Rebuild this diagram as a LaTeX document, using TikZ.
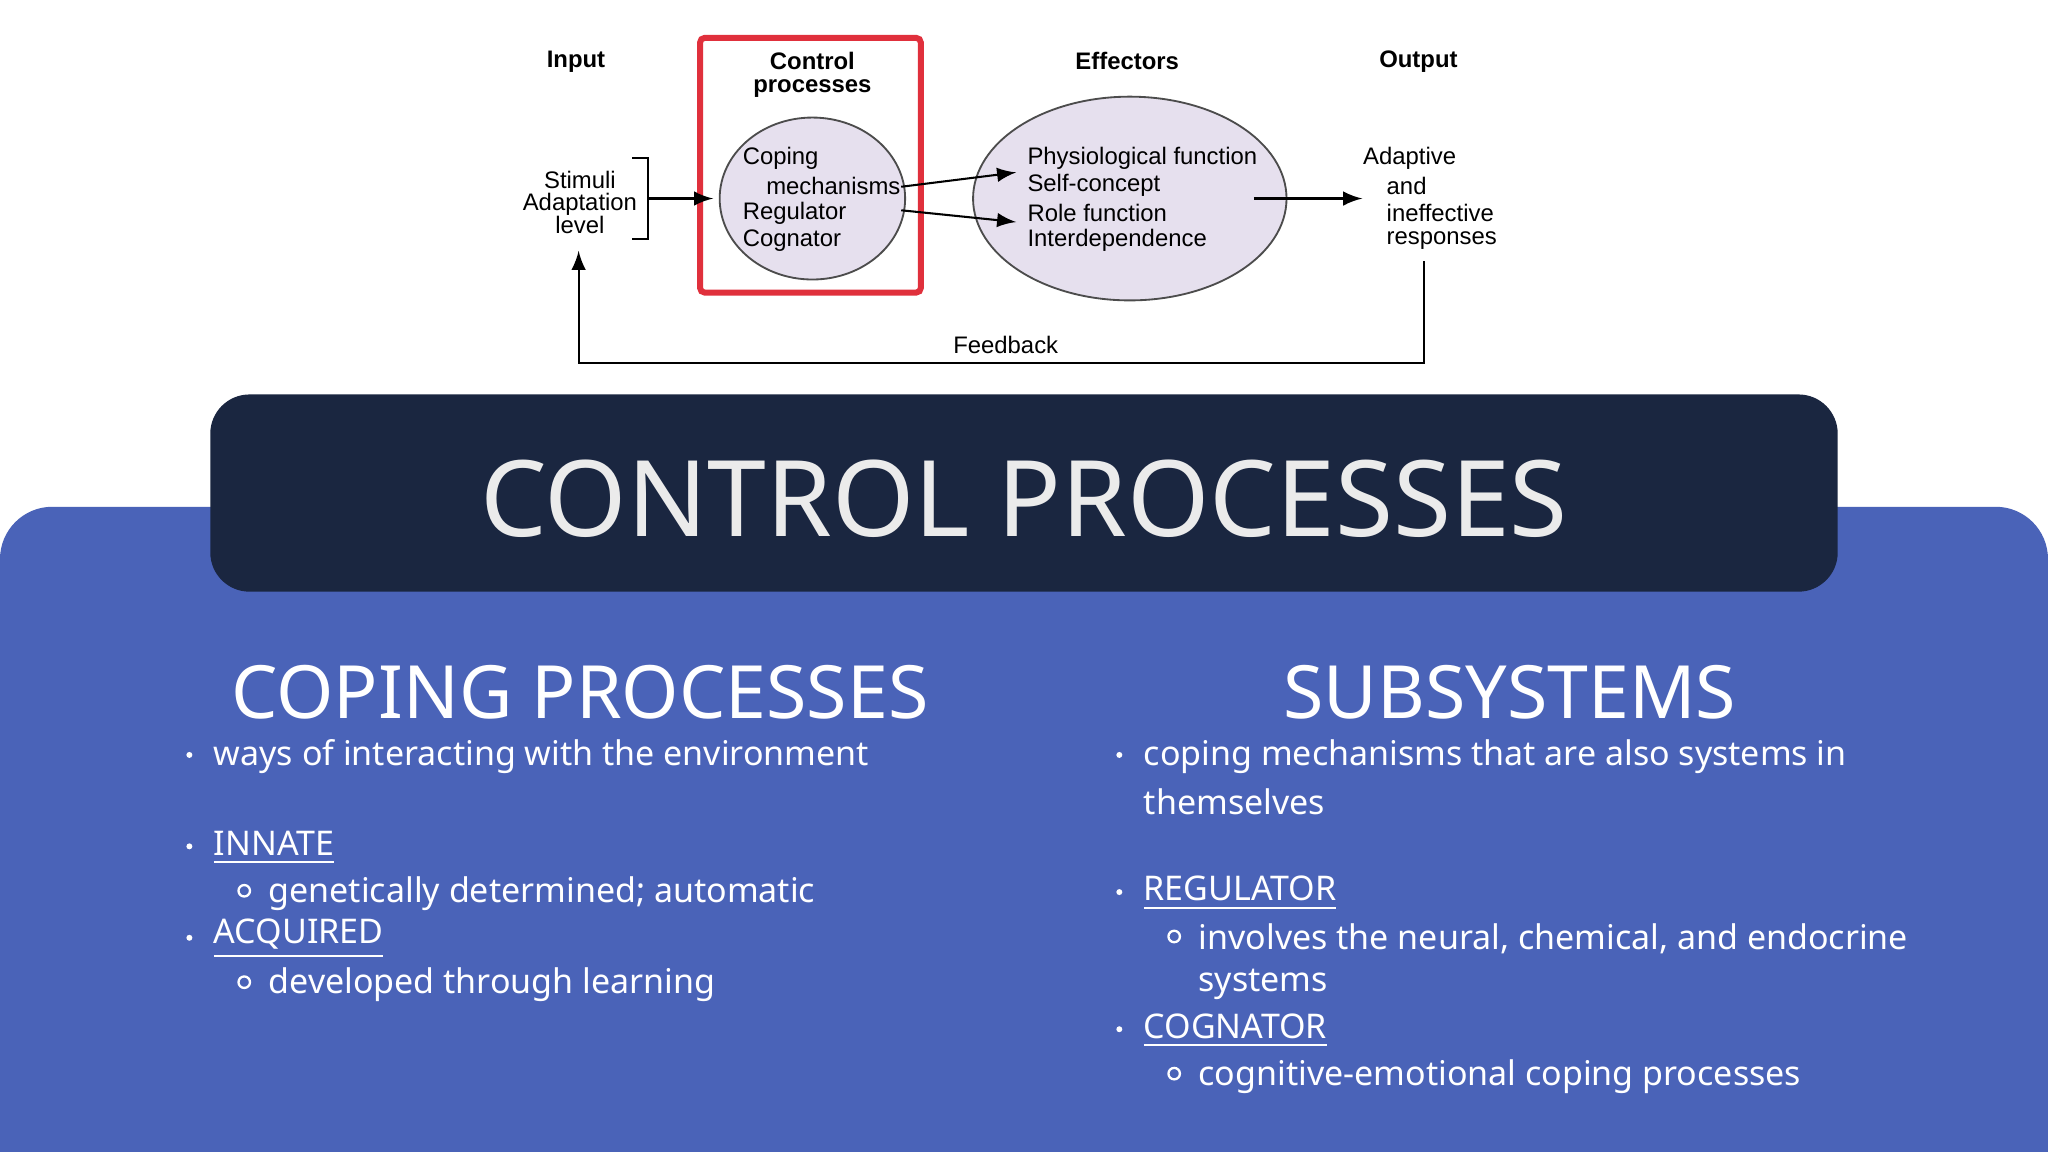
\documentclass[tikz,border=0pt]{standalone}
\usepackage{fontspec}
\setmainfont{Noto Sans}
\newfontfamily\arialf{Liberation Sans}
\usetikzlibrary{positioning}
\definecolor{slideblue}{HTML}{4A63B8}
\definecolor{titlenavy}{HTML}{1A2640}
\definecolor{lavender}{HTML}{E6E0EE}
\definecolor{frame}{HTML}{E0303C}
\begin{document}
\begin{tikzpicture}[x=0.01cm,y=-0.01cm,
  dtext/.style={font=\arialf\fontsize{5.2}{6}\selectfont,inner sep=0pt,anchor=west},
  dhead/.style={font=\arialf\bfseries\fontsize{5.2}{6}\selectfont,align=center,inner sep=0pt},
  blob/.style={draw=black!70,fill=lavender,line width=0.4pt},
  head/.style={font=\fontsize{16}{18}\selectfont,text=white,inner sep=0pt},
  btext/.style={font=\fontsize{7.4}{9}\selectfont,text=white,anchor=west,inner sep=0pt},
  dot/.style={circle,fill=white,inner sep=0pt,minimum size=1.3pt},
  ring/.style={circle,draw=white,line width=0.5pt,inner sep=0pt,minimum size=2.5pt},
  arr/.style={-latex,line width=0.45pt}]
\useasboundingbox (0,0) rectangle (1568,882);
\fill[white] (0,0) rectangle (1568,882);
% blue background and title bar
\fill[slideblue,rounded corners=0.4cm] (0,1000) -- (0,388) -- (1568,388) -- (1568,1000) -- cycle;
\fill[titlenavy,rounded corners=0.3cm] (161,302) rectangle (1407,453);
\node[font=\fontsize{23}{26}\selectfont,text=white!92!black] (title) at (784,382) {CONTROL PROCESSES};

% diagram
\node[dhead] (input) at (441,47) {Input};
\node[dhead] (ctrl) at (622,57) {Control\\[-1pt]processes};
\node[dhead] (eff) at (863,47) {Effectors};
\node[dhead] (out) at (1086,47) {Output};
\draw[frame,line width=1.3pt,rounded corners=1pt] (536,29) rectangle (705,224);
\draw[blob] (622,152) ellipse [x radius=71,y radius=62];
\draw[blob] (865,152) ellipse [x radius=120,y radius=78];
\node[dtext,anchor=center,align=center] (stim) at (444,155) {Stimuli\\[-1pt]Adaptation\\[-1pt]level};
\foreach \t/\x/\y in {Coping/568/121,mechanisms/586/142,Regulator/568/163,Cognator/568/184,
  Physiological function/786/121,Self-concept/786/142,Role function/786/163,Interdependence/786/184,
  Adaptive/1043/121,and/1061/142,ineffective/1061/163,responses/1061/184}
  \node[dtext] at (\x,\y) {\t};
\coordinate (brk) at (496,152);
\coordinate (cin) at (546,152);
\coordinate (m1) at (690,143); \coordinate (e1) at (778,132);
\coordinate (m2) at (690,161); \coordinate (e2) at (778,170);
\coordinate (eout) at (960,152); \coordinate (oin) at (1043,152);
\coordinate (fb) at (1090,200); \coordinate (sin) at (443,192);
\draw[line width=0.45pt] (484,121) -- (496,121) -- (496,183) -- (484,183);
\draw[arr] (brk) -- (cin);
\draw[arr] (m1) -- (e1);
\draw[arr] (m2) -- (e2);
\draw[arr] (eout) -- (oin);
\draw[arr] (fb) |- (770,278) -| (sin);
\node[dtext,anchor=center,fill=white,inner sep=1pt] (feed) at (770,264) {Feedback};

% columns
\node[head] (lhead) at (444,530) {COPING PROCESSES};
\node[head] (rhead) at (1156,530) {SUBSYSTEMS};
\foreach \y/\t in {579/ways of interacting with the environment,649/\underline{INNATE},719/\underline{ACQUIRED}}
  {\node[dot] at (145,\y-1) {}; \node[btext] at (163,\y) {\t};}
\foreach \y/\t in {684/genetically determined; automatic,754/developed through learning}
  {\node[ring] at (187,\y-2) {}; \node[btext] at (205,\y) {\t};}
\foreach \y/\t in {579/coping mechanisms that are also systems in,614/themselves,684/\underline{REGULATOR},789/\underline{COGNATOR}}
  \node[btext] at (875,\y) {\t};
\foreach \y in {579,684,789} \node[dot] at (857,\y-1) {};
\foreach \y/\t in {719/{involves the neural, chemical, and endocrine},754/systems,824/cognitive-emotional coping processes}
  \node[btext] at (917,\y) {\t};
\foreach \y in {719,824} \node[ring] at (899,\y-2) {};
\end{tikzpicture}
\end{document}
